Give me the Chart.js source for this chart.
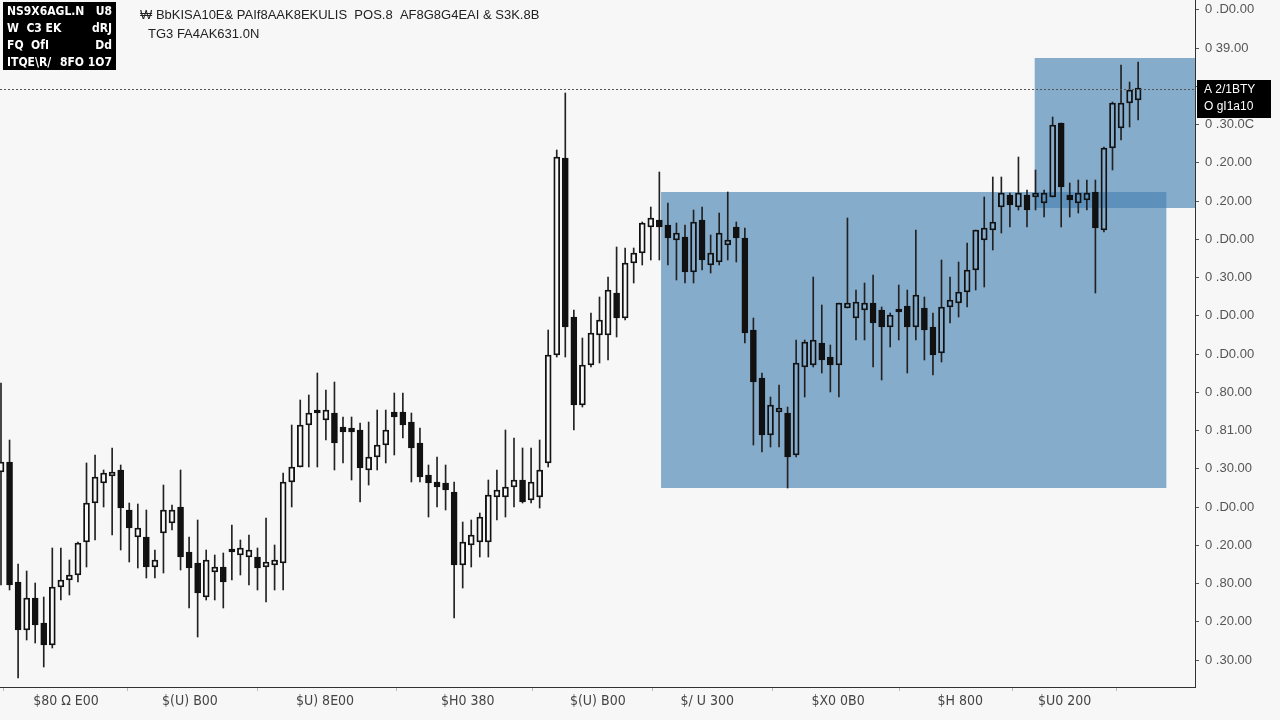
<!DOCTYPE html>
<html>
<head>
<meta charset="utf-8">
<script src="https://cdn.jsdelivr.net/npm/chart.js@4.4.1/dist/chart.umd.min.js"></script>
<style>
  html, body { margin: 0; padding: 0; background: #f7f7f7; }
  #wrap { width: 1280px; height: 720px; }
</style>
</head>
<body>
<div id="wrap"><canvas id="chart" width="1280" height="720"></canvas></div>
<script>
// candle values, oldest first
const opens = [215,225,105,57,89,64,42,100,107,112,145,184,204,211,217,177,150,150,120,154,
  164,180,135,124,90,115,120,135,132,130,130,120,122,124,205,220,262,274,267,274,
  260,259,257,217,230,242,275,275,265,244,212,205,204,195,122,142,145,145,190,190,
  200,207,187,190,224,332,529,370,282,322,352,352,394,369,424,434,460,467,462,447,
  450,415,467,422,425,442,460,449,357,309,252,275,274,232,320,322,344,330,322,379,
  369,377,384,377,360,375,381,360,379,360,334,380,384,395,417,447,457,480,492,480,492,
  490,484,490,564,492,484,487,495,457,539,559,584,587];
const closes = [225,102,57,89,62,42,100,107,112,144,184,210,214,215,179,159,159,120,127,177,
  177,130,119,94,127,120,105,137,139,137,119,125,127,205,220,262,274,277,277,244,
  255,255,219,230,242,257,270,262,239,210,204,200,197,122,145,152,170,192,197,200,
  207,185,205,217,332,530,360,282,322,354,367,397,369,424,434,464,469,460,449,454,
  415,465,427,434,454,447,449,354,305,252,282,279,230,324,345,347,327,322,384,384,
  385,384,364,360,372,377,360,392,357,332,380,387,395,417,457,459,465,494,482,494,477,
  494,494,562,500,487,494,494,459,539,584,584,597,599];
const highs = [304,247,123,116,104,90,139,139,127,145,224,232,217,239,222,184,183,177,137,202,
  182,217,150,167,137,132,134,162,147,152,139,169,142,214,262,287,292,314,297,305,
  270,270,264,265,277,277,294,294,274,259,222,230,222,205,165,167,174,207,217,257,
  249,239,239,247,357,537,594,377,349,374,390,410,440,439,439,465,480,515,484,464,
  462,477,480,452,474,495,465,459,369,314,290,302,280,347,347,410,382,342,384,469,
  397,404,412,380,374,402,397,457,390,374,427,410,425,444,457,490,510,510,494,530,497,
  517,497,570,564,504,507,507,507,540,585,622,605,625];
const lows = [102,97,9,47,44,20,39,87,92,105,120,147,180,152,137,125,119,109,109,114,
  157,117,79,50,87,87,79,107,112,102,97,85,97,97,180,220,220,220,247,217,
  224,207,185,202,217,224,232,249,205,205,170,180,177,69,99,120,130,130,167,170,
  180,184,184,179,220,330,330,257,280,320,324,327,350,367,404,422,427,427,422,407,
  404,404,417,414,422,427,425,344,242,235,240,240,199,230,290,320,314,295,290,379,
  347,347,320,307,340,347,314,347,327,312,325,364,370,380,397,400,437,454,460,477,460,
  477,470,490,460,470,474,477,394,455,517,547,560,567];

const xTickValues = [7.6, 22.1, 37.9, 54.6, 69.8, 82.6, 97.9, 112.2, 124.4];
const xTickLabels = ['$80 Ω E00', '$(U) B00', '$U) 8E00', '$H0 380', '$(U) B00', '$/ U 300', '$X0 0B0', '$H 800', '$U0 200'];
const yTickValues = [27, 65.2, 103.5, 141.7, 180, 218.2, 256.4, 294.7, 332.9, 371.2, 409.4, 447.6, 485.9, 524.1, 562.4, 600.6, 638.8, 677.1];
const yTickLabels = ['0 .30.00', '0 .20.00', '0 .80.00', '0 .20.00', '0 .D0.00', '0 .30.00', '0 .81.00', '0 .80.00', '0 .D0.00',
  '0 .D0.00', '0 .30.00', '0 .D0.00', '0 .20.00', '0 .20.00', '0 .30.0C', '0 .30.00', '0 39.00', '0 .D0.00'];

// shaded zones (index range, price range)
const zoneStart = [77.2, 120.9];
const zoneEnd = [136.3, 139.65];
const zoneLow = [199, 479];
const zoneHigh = [495, 629];

const priceLevel = 598;
const priceLabel = ['A 2/1BTY', 'O gI1a10'];
const infoLeft = ['NS9X6AGL.N', 'W  C3 EK', 'FQ  OfI', 'ITQE\\R/'];
const infoRight = ['U8', 'dRJ', 'Dd', '8FO 1O7'];
const titleLines = ['₩ BbKISA10E& PAIf8AAK8EKULIS  POS.8  AF8G8G4EAI & S3K.8B', 'TG3 FA4AK631.0N'];

const SANS = 'Liberation Sans, Arial, sans-serif';
const NARROW = 'DejaVu Sans Condensed, Liberation Sans Narrow, DejaVu Sans, sans-serif';

const bodies = opens.map((o, i) => ({ x: i, y: [o, closes[i]] }));
const upperWicks = opens.map((o, i) => ({ x: i, y: [Math.max(o, closes[i]), highs[i]] }));
const lowerWicks = opens.map((o, i) => ({ x: i, y: [lows[i], Math.min(o, closes[i])] }));

const overlay = {
  id: 'overlay',
  beforeDatasetsDraw(chart) {
    const { ctx, chartArea, scales: { x, y } } = chart;
    ctx.save();
    ctx.beginPath();
    ctx.rect(chartArea.left, chartArea.top, chartArea.width, chartArea.height);
    ctx.clip();
    ctx.fillStyle = 'rgba(70,130,180,0.64)';
    zoneStart.forEach((s, i) => {
      const l = x.getPixelForValue(s), r = x.getPixelForValue(zoneEnd[i]);
      const t = y.getPixelForValue(zoneHigh[i]), b = y.getPixelForValue(zoneLow[i]);
      ctx.fillRect(l, t, r - l, b - t);
    });
    ctx.restore();
  },
  afterDatasetsDraw(chart) {
    const { ctx, chartArea, scales: { y } } = chart;
    const py = Math.round(y.getPixelForValue(priceLevel)) + 0.5;
    ctx.save();
    ctx.strokeStyle = '#555';
    ctx.lineWidth = 1;
    ctx.setLineDash([2, 2]);
    ctx.beginPath();
    ctx.moveTo(chartArea.left, py);
    ctx.lineTo(chartArea.right, py);
    ctx.stroke();
    ctx.restore();
  },
  afterDraw(chart) {
    const { ctx, chartArea, scales: { y } } = chart;
    const py = y.getPixelForValue(priceLevel);
    ctx.save();
    // price tag on the axis
    ctx.fillStyle = '#000';
    ctx.fillRect(chartArea.right + 2, py - 9, 74, 38);
    ctx.fillStyle = '#fff';
    ctx.font = '12px ' + SANS;
    ctx.textBaseline = 'middle';
    ctx.textAlign = 'left';
    ctx.fillText(priceLabel[0], chartArea.right + 9, py + 1);
    ctx.fillText(priceLabel[1], chartArea.right + 9, py + 18);

    // info box top left
    ctx.fillStyle = '#000';
    ctx.fillRect(3, 2, 113, 68);
    ctx.fillStyle = '#fff';
    ctx.font = 'bold 12px ' + NARROW;
    infoLeft.forEach((t, i) => {
      ctx.textAlign = 'left';
      ctx.fillText(t, 7, 12 + i * 17);
      ctx.textAlign = 'right';
      ctx.fillText(infoRight[i], 112, 12 + i * 17);
    });

    // heading
    ctx.fillStyle = '#222';
    ctx.textAlign = 'left';
    ctx.font = '13px ' + SANS;
    ctx.fillText(titleLines[0], 140, 15);
    ctx.fillText(titleLines[1], 148, 34);
    ctx.restore();
  }
};

new Chart(document.getElementById('chart'), {
  type: 'bar',
  data: {
    datasets: [
      { data: upperWicks, backgroundColor: '#222', barThickness: 1, grouped: false, order: 3 },
      { data: lowerWicks, backgroundColor: '#222', barThickness: 1, grouped: false, order: 2 },
      {
        data: bodies,
        barThickness: 6,
        grouped: false,
        order: 1,
        minBarLength: 3,
        borderWidth: 1.2,
        borderSkipped: false,
        borderColor: '#111',
        backgroundColor: ctx => closes[ctx.dataIndex] >= opens[ctx.dataIndex] ? 'rgba(0,0,0,0)' : '#111'
      }
    ]
  },
  options: {
    responsive: false,
    animation: false,
    layout: { padding: 0 },
    plugins: {
      legend: { display: false },
      tooltip: { enabled: false }
    },
    scales: {
      x: {
        type: 'linear',
        offset: false,
        min: -0.117,
        max: 139.65,
        afterBuildTicks: axis => { axis.ticks = xTickValues.map(v => ({ value: v })); },
        afterFit: axis => { axis.height = 33; axis.paddingLeft = 0; axis.paddingRight = 0; },
        grid: { drawOnChartArea: false, drawTicks: true, tickLength: 4, color: '#bbb' },
        border: { display: true, color: '#333', width: 1 },
        ticks: {
          autoSkip: false,
          maxRotation: 0,
          padding: 2,
          color: '#444',
          font: { family: NARROW, size: 14 },
          callback: (v, i) => xTickLabels[i]
        }
      },
      y: {
        position: 'right',
        min: 0,
        max: 687,
        afterBuildTicks: axis => { axis.ticks = yTickValues.map(v => ({ value: v })); },
        afterFit: axis => { axis.width = 85; axis.paddingTop = 0; axis.paddingBottom = 0; },
        grid: { drawOnChartArea: false, drawTicks: true, tickLength: 4, color: '#555' },
        border: { display: true, color: '#333', width: 1 },
        ticks: {
          padding: 6,
          color: '#555',
          font: { family: SANS, size: 13 },
          callback: (v, i) => yTickLabels[i]
        }
      }
    }
  },
  plugins: [overlay]
});
</script>
</body>
</html>
